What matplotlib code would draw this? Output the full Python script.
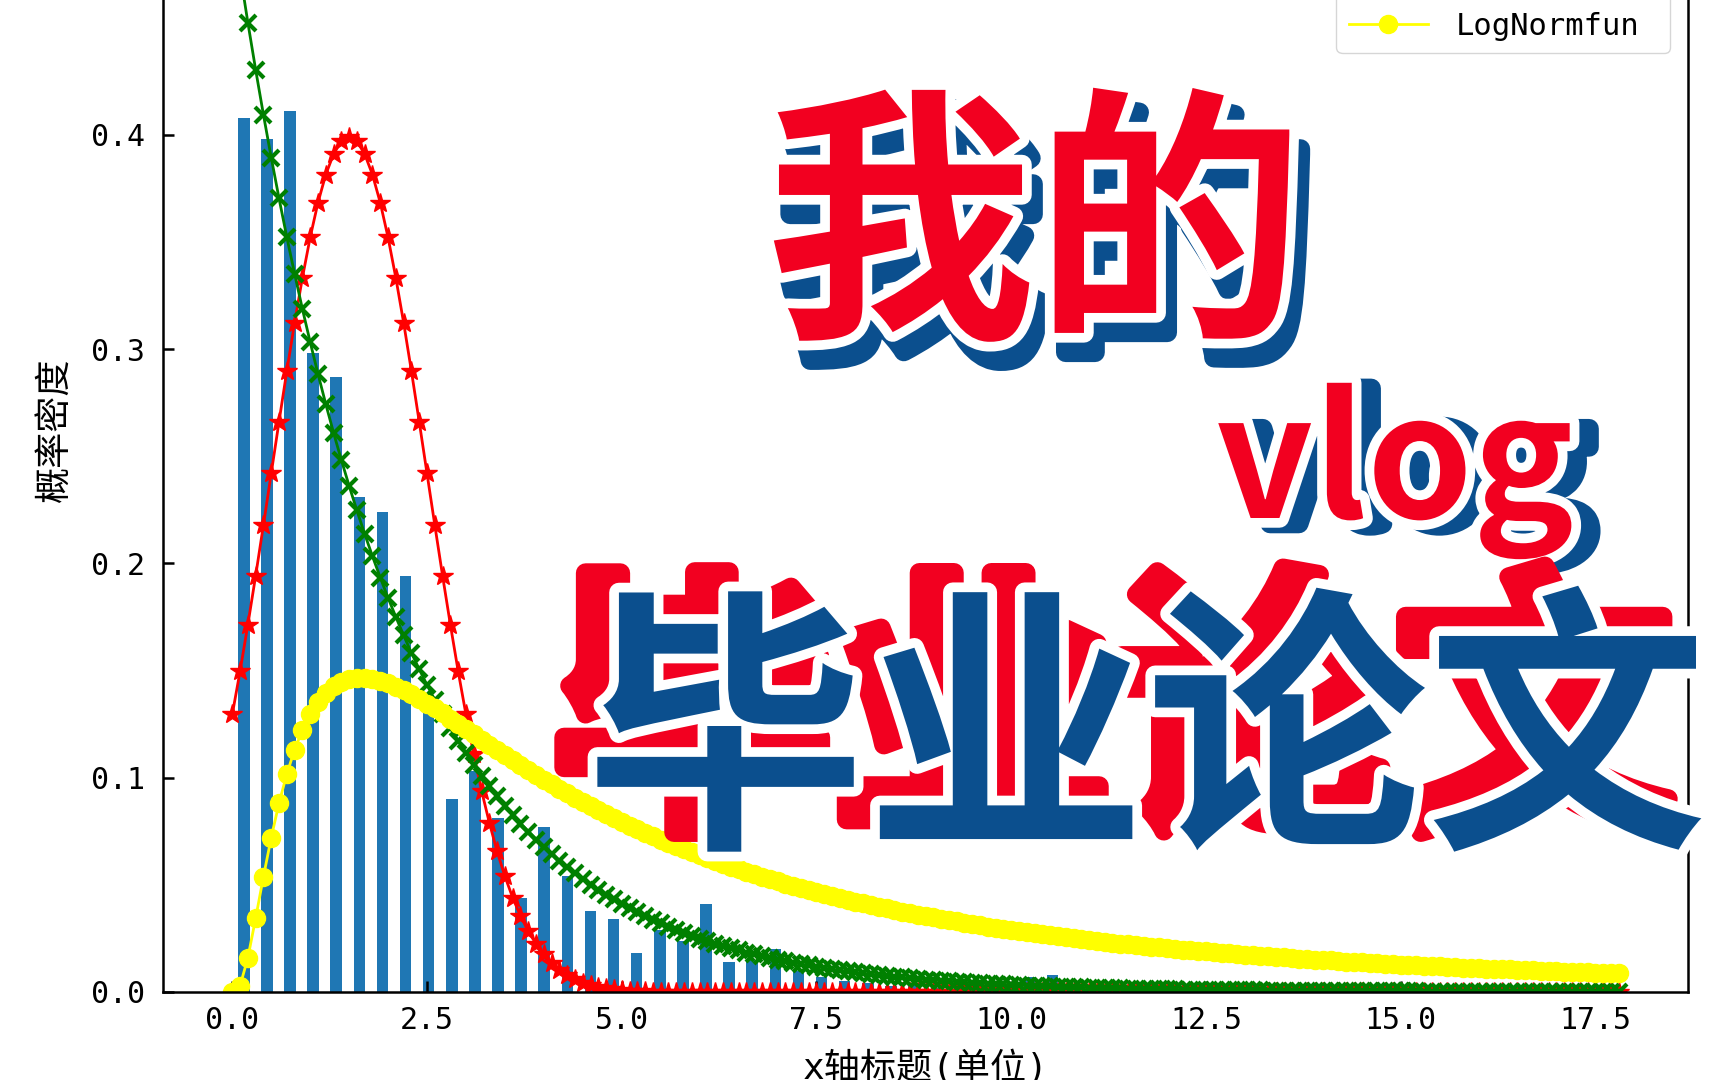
import numpy as np
import matplotlib
matplotlib.use('Agg')
import matplotlib.pyplot as plt
import matplotlib.patheffects as pe

plt.rcParams['font.family'] = ['DejaVu Sans Mono', 'Noto Sans CJK SC']
plt.rcParams['axes.unicode_minus'] = False

# fitted pdf curves, sampled every 0.1 on x from 0.0 to 17.8
x = np.linspace(0.0, 17.8, 179)

normfun = [
    0.1295, 0.1497, 0.1714, 0.1942, 0.2179, 0.2420, 0.2661, 0.2897, 0.3123, 0.3332,
    0.3521, 0.3683, 0.3814, 0.3910, 0.3970, 0.3989, 0.3970, 0.3910, 0.3814, 0.3683,
    0.3521, 0.3332, 0.3123, 0.2897, 0.2661, 0.2420, 0.2179, 0.1942, 0.1714, 0.1497,
    0.1295, 0.1109, 0.0940, 0.0790, 0.0656, 0.0540, 0.0440, 0.0355, 0.0283, 0.0224,
    0.0175, 0.0136, 0.0104, 0.0079, 0.0060, 0.0044, 0.0033, 0.0024, 0.0017, 0.0012,
    0.0009, 0.0006, 0.0004, 0.0003, 0.0002, 0.0001, 0.0001, 0.0001, 0.0, 0.0,
    0.0, 0.0, 0.0, 0.0, 0.0, 0.0, 0.0, 0.0, 0.0, 0.0,
    0.0, 0.0, 0.0, 0.0, 0.0, 0.0, 0.0, 0.0, 0.0, 0.0,
    0.0, 0.0, 0.0, 0.0, 0.0, 0.0, 0.0, 0.0, 0.0, 0.0,
    0.0, 0.0, 0.0, 0.0, 0.0, 0.0, 0.0, 0.0, 0.0, 0.0,
    0.0, 0.0, 0.0, 0.0, 0.0, 0.0, 0.0, 0.0, 0.0, 0.0,
    0.0, 0.0, 0.0, 0.0, 0.0, 0.0, 0.0, 0.0, 0.0, 0.0,
    0.0, 0.0, 0.0, 0.0, 0.0, 0.0, 0.0, 0.0, 0.0, 0.0,
    0.0, 0.0, 0.0, 0.0, 0.0, 0.0, 0.0, 0.0, 0.0, 0.0,
    0.0, 0.0, 0.0, 0.0, 0.0, 0.0, 0.0, 0.0, 0.0, 0.0,
    0.0, 0.0, 0.0, 0.0, 0.0, 0.0, 0.0, 0.0, 0.0, 0.0,
    0.0, 0.0, 0.0, 0.0, 0.0, 0.0, 0.0, 0.0, 0.0, 0.0,
    0.0, 0.0, 0.0, 0.0, 0.0, 0.0, 0.0, 0.0, 0.0,
]

expfun = [
    0.5000, 0.4756, 0.4524, 0.4304, 0.4094, 0.3894, 0.3704, 0.3523, 0.3352, 0.3188,
    0.3033, 0.2885, 0.2744, 0.2610, 0.2483, 0.2362, 0.2247, 0.2137, 0.2033, 0.1934,
    0.1839, 0.1750, 0.1664, 0.1583, 0.1506, 0.1433, 0.1363, 0.1296, 0.1233, 0.1173,
    0.1116, 0.1061, 0.1009, 0.0960, 0.0913, 0.0869, 0.0826, 0.0786, 0.0748, 0.0711,
    0.0677, 0.0644, 0.0612, 0.0582, 0.0554, 0.0527, 0.0501, 0.0477, 0.0454, 0.0432,
    0.0410, 0.0390, 0.0371, 0.0353, 0.0336, 0.0320, 0.0304, 0.0289, 0.0275, 0.0262,
    0.0249, 0.0237, 0.0225, 0.0214, 0.0204, 0.0194, 0.0184, 0.0175, 0.0167, 0.0159,
    0.0151, 0.0144, 0.0137, 0.0130, 0.0124, 0.0118, 0.0112, 0.0106, 0.0101, 0.0096,
    0.0092, 0.0087, 0.0083, 0.0079, 0.0075, 0.0071, 0.0068, 0.0065, 0.0061, 0.0058,
    0.0056, 0.0053, 0.0050, 0.0048, 0.0045, 0.0043, 0.0041, 0.0039, 0.0037, 0.0035,
    0.0034, 0.0032, 0.0030, 0.0029, 0.0028, 0.0026, 0.0025, 0.0024, 0.0023, 0.0022,
    0.0020, 0.0019, 0.0018, 0.0018, 0.0017, 0.0016, 0.0015, 0.0014, 0.0014, 0.0013,
    0.0012, 0.0012, 0.0011, 0.0011, 0.0010, 0.0010, 0.0009, 0.0009, 0.0008, 0.0008,
    0.0008, 0.0007, 0.0007, 0.0006, 0.0006, 0.0006, 0.0006, 0.0005, 0.0005, 0.0005,
    0.0005, 0.0004, 0.0004, 0.0004, 0.0004, 0.0004, 0.0003, 0.0003, 0.0003, 0.0003,
    0.0003, 0.0003, 0.0003, 0.0002, 0.0002, 0.0002, 0.0002, 0.0002, 0.0002, 0.0002,
    0.0002, 0.0002, 0.0002, 0.0001, 0.0001, 0.0001, 0.0001, 0.0001, 0.0001, 0.0001,
    0.0001, 0.0001, 0.0001, 0.0001, 0.0001, 0.0001, 0.0001, 0.0001, 0.0001,
]

lognormfun = [
    0.0000, 0.0029, 0.0159, 0.0344, 0.0538, 0.0720, 0.0881, 0.1017, 0.1130, 0.1222,
    0.1295, 0.1352, 0.1395, 0.1427, 0.1448, 0.1461, 0.1467, 0.1467, 0.1462, 0.1453,
    0.1441, 0.1425, 0.1408, 0.1389, 0.1368, 0.1346, 0.1323, 0.1300, 0.1276, 0.1251,
    0.1227, 0.1202, 0.1178, 0.1154, 0.1129, 0.1106, 0.1082, 0.1059, 0.1036, 0.1013,
    0.0991, 0.0969, 0.0948, 0.0927, 0.0907, 0.0887, 0.0867, 0.0848, 0.0829, 0.0811,
    0.0793, 0.0776, 0.0759, 0.0742, 0.0726, 0.0710, 0.0695, 0.0680, 0.0665, 0.0651,
    0.0637, 0.0624, 0.0610, 0.0598, 0.0585, 0.0573, 0.0561, 0.0549, 0.0538, 0.0527,
    0.0516, 0.0506, 0.0495, 0.0485, 0.0475, 0.0466, 0.0457, 0.0448, 0.0439, 0.0430,
    0.0422, 0.0413, 0.0405, 0.0398, 0.0390, 0.0382, 0.0375, 0.0368, 0.0361, 0.0354,
    0.0348, 0.0341, 0.0335, 0.0329, 0.0323, 0.0317, 0.0311, 0.0305, 0.0300, 0.0294,
    0.0289, 0.0284, 0.0279, 0.0274, 0.0269, 0.0264, 0.0260, 0.0255, 0.0251, 0.0247,
    0.0242, 0.0238, 0.0234, 0.0230, 0.0226, 0.0223, 0.0219, 0.0215, 0.0212, 0.0208,
    0.0205, 0.0201, 0.0198, 0.0195, 0.0192, 0.0189, 0.0186, 0.0183, 0.0180, 0.0177,
    0.0174, 0.0171, 0.0169, 0.0166, 0.0163, 0.0161, 0.0158, 0.0156, 0.0154, 0.0151,
    0.0149, 0.0147, 0.0145, 0.0142, 0.0140, 0.0138, 0.0136, 0.0134, 0.0132, 0.0130,
    0.0128, 0.0126, 0.0125, 0.0123, 0.0121, 0.0119, 0.0118, 0.0116, 0.0114, 0.0113,
    0.0111, 0.0109, 0.0108, 0.0106, 0.0105, 0.0103, 0.0102, 0.0101, 0.0099, 0.0098,
    0.0097, 0.0095, 0.0094, 0.0093, 0.0091, 0.0090, 0.0089, 0.0088, 0.0087,
]

# histogram of the sample (density), 60 bins from 0 to 17.8
hist_lo, hist_hi = 0.0, 17.8
hist_density = [
    0.408, 0.398, 0.411, 0.298, 0.287, 0.231, 0.224, 0.194, 0.130, 0.090,
    0.103, 0.081, 0.044, 0.077, 0.054, 0.038, 0.034, 0.018, 0.029, 0.024,
    0.041, 0.014, 0.015, 0.020, 0.010, 0.007, 0.005, 0.004, 0.003, 0.004,
    0.002, 0.003, 0.002, 0.003, 0.007, 0.008, 0.002, 0.001, 0.002, 0.001,
    0.001, 0.001, 0.000, 0.001, 0.001, 0.000, 0.001, 0.000, 0.001, 0.000,
    0.001, 0.000, 0.000, 0.001, 0.000, 0.000, 0.001, 0.000, 0.000, 0.001,
]

fig = plt.figure(figsize=(17.28, 10.8), dpi=100)
# the picture is a crop: the top of the axes lies above the figure
ax = fig.add_axes([0.0943, 0.0815, 0.8826, 1.0417])

edges = np.linspace(hist_lo, hist_hi, len(hist_density) + 1)
ax.hist(edges[:-1], bins=edges, weights=hist_density, rwidth=0.5, color='#1f77b4')

ax.plot(x, normfun, '-*', color='#FF0000', ms=15, lw=2.0, label='Normfun')
ax.plot(x, expfun, '-x', color='#008000', ms=11, mew=3, lw=2.0, label='Exponentfun')
ax.plot(x, lognormfun, '-o', color='#FFFF00', ms=13, lw=2.0, label='LogNormfun')

ax.set_xlim(-0.89, 18.69)
ax.set_ylim(0, 0.525)

ax.tick_params(direction='in', length=8, width=1.8, labelsize=21.5)
ax.tick_params(axis='x', pad=10)
ax.tick_params(axis='y', pad=13)
for s in ax.spines.values():
    s.set_linewidth(1.8)

ax.set_xlabel('x轴标题(单位)', fontsize=26, labelpad=11)
ax.set_ylabel('概率密度', fontsize=26, labelpad=14)

ax.legend(loc='lower right', bbox_to_anchor=(1670 / 1728, 1 - 53 / 1080),
          bbox_transform=fig.transFigure, borderaxespad=0, fontsize=22,
          handlelength=2.6, handletextpad=0.9)

RED = '#F20020'
BLUE = '#0B4F8E'


def deco(txt, x0, y0, size, face, shade, dx, dy, va='center'):
    t = fig.text(x0, y0, txt, fontsize=size, color=face, ha='center', va=va,
                 family=['Noto Sans CJK SC'], fontweight='black', zorder=10)
    t.set_path_effects([
        pe.PathPatchEffect(offset=(dx, dy), facecolor=shade, edgecolor=shade,
                           linewidth=14, joinstyle='round'),
        pe.Stroke(linewidth=14, foreground='white', joinstyle='round'),
        pe.Normal(),
    ])


deco('我的', 1035 / 1728, 1 - 238 / 1080, 194, RED, BLUE, 8, -14)
deco('vlog', 1395 / 1728, 1 - 518 / 1080, 122, RED, BLUE, 14, -4, va='baseline')
deco('毕业论文', 1146 / 1728, 1 - 745 / 1080, 202, BLUE, RED, -24, 14)

fig.savefig('out.png', dpi=100)
